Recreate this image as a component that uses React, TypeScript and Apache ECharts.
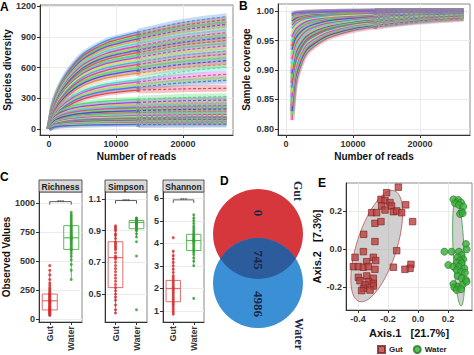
import React, { useEffect, useRef } from 'react';
import * as echarts from 'echarts';

// ---------- Panel A: rarefaction (species diversity) ----------
const READS_A = [1, 800, 2500, 5000, 8500, 13300, 20000, 26500];
const DIVERSITY_CURVES: number[][] = [
  [1, 284, 529, 728, 860, 945, 1040, 1096],
  [1, 276, 515, 708, 837, 920, 1012, 1067],
  [1, 270, 504, 693, 819, 900, 990, 1044],
  [1, 264, 493, 678, 801, 880, 968, 1021],
  [1, 258, 482, 662, 783, 860, 946, 998],
  [1, 250, 468, 643, 760, 835, 918, 969],
  [1, 243, 454, 624, 737, 810, 891, 940],
  [1, 237, 442, 608, 719, 790, 869, 916],
  [1, 231, 431, 593, 701, 770, 847, 893],
  [1, 224, 417, 574, 678, 745, 820, 864],
  [1, 216, 403, 554, 655, 720, 792, 835],
  [1, 210, 392, 539, 637, 700, 770, 812],
  [1, 204, 381, 524, 619, 680, 748, 789],
  [1, 197, 367, 504, 596, 655, 720, 760],
  [1, 189, 353, 485, 573, 630, 693, 731],
  [1, 180, 336, 462, 546, 600, 660, 696],
  [1, 173, 322, 443, 523, 575, 632, 667],
  [1, 164, 305, 420, 496, 545, 600, 632],
  [1, 144, 269, 370, 437, 480, 560, 605],
  [1, 138, 258, 354, 419, 460, 506, 534],
  [1, 129, 241, 331, 391, 430, 473, 499],
  [1, 123, 230, 316, 373, 410, 451, 476],
  [1, 114, 213, 293, 346, 380, 392, 398],
  [1, 131, 203, 247, 273, 290, 307, 316],
  [1, 117, 182, 221, 244, 260, 276, 283],
  [1, 108, 168, 204, 226, 240, 254, 262],
  [1, 101, 158, 191, 212, 225, 239, 245],
  [1, 95, 147, 179, 197, 210, 223, 229],
  [1, 88, 137, 166, 183, 195, 207, 213],
  [1, 81, 126, 153, 169, 180, 191, 196],
  [1, 72, 112, 136, 150, 160, 170, 174],
  [1, 68, 105, 128, 141, 150, 159, 164],
  [1, 59, 91, 111, 122, 130, 138, 142],
  [1, 54, 84, 102, 113, 120, 127, 131],
  [1, 50, 77, 94, 103, 110, 117, 120],
  [1, 45, 70, 85, 94, 100, 106, 109],
  [1, 41, 64, 78, 86, 92, 98, 100],
  [1, 38, 60, 72, 80, 85, 90, 93],
  [1, 35, 55, 66, 73, 78, 83, 85],
  [1, 32, 49, 60, 66, 70, 74, 76],
  [1, 28, 43, 53, 58, 62, 66, 68],
  [1, 25, 39, 47, 52, 55, 58, 60],
  [1, 20, 32, 38, 42, 45, 48, 49],
];
const A_Y_TICKS = [0, 300, 600, 900, 1200];
const READ_TICKS = [0, 10000, 20000];

// ---------- Panel B: sample coverage ----------
const READS_B = [900, 1500, 3000, 6000, 10000, 13300, 20000, 26500];
const COVERAGE_CURVES: number[][] = [
  [0.815, 0.880, 0.927, 0.953, 0.967, 0.973, 0.982, 0.987],
  [0.822, 0.885, 0.930, 0.955, 0.969, 0.975, 0.983, 0.988],
  [0.830, 0.890, 0.933, 0.957, 0.970, 0.976, 0.984, 0.989],
  [0.838, 0.895, 0.936, 0.959, 0.972, 0.977, 0.985, 0.989],
  [0.846, 0.900, 0.939, 0.961, 0.973, 0.978, 0.986, 0.990],
  [0.854, 0.905, 0.942, 0.963, 0.975, 0.980, 0.987, 0.991],
  [0.862, 0.910, 0.945, 0.965, 0.976, 0.981, 0.988, 0.991],
  [0.870, 0.915, 0.948, 0.967, 0.978, 0.982, 0.988, 0.992],
  [0.878, 0.920, 0.951, 0.969, 0.979, 0.983, 0.989, 0.992],
  [0.886, 0.925, 0.954, 0.971, 0.980, 0.984, 0.990, 0.993],
  [0.894, 0.930, 0.957, 0.973, 0.982, 0.986, 0.991, 0.993],
  [0.902, 0.935, 0.960, 0.975, 0.983, 0.987, 0.991, 0.994],
  [0.910, 0.940, 0.963, 0.977, 0.984, 0.988, 0.992, 0.994],
  [0.918, 0.945, 0.966, 0.979, 0.986, 0.989, 0.993, 0.995],
  [0.926, 0.950, 0.969, 0.981, 0.987, 0.990, 0.993, 0.995],
  [0.934, 0.955, 0.972, 0.983, 0.988, 0.991, 0.994, 0.996],
  [0.940, 0.962, 0.978, 0.986, 0.990, 0.992, 0.995, 0.996],
  [0.948, 0.965, 0.979, 0.987, 0.991, 0.993, 0.995, 0.997],
  [0.956, 0.970, 0.982, 0.989, 0.992, 0.994, 0.996, 0.997],
  [0.963, 0.975, 0.985, 0.990, 0.993, 0.995, 0.997, 0.998],
  [0.970, 0.979, 0.987, 0.992, 0.995, 0.996, 0.997, 0.998],
  [0.976, 0.983, 0.990, 0.994, 0.996, 0.997, 0.998, 0.999],
  [0.980, 0.986, 0.992, 0.995, 0.997, 0.998, 0.999, 0.999],
  [0.983, 0.988, 0.993, 0.996, 0.998, 0.998, 0.999, 0.999],
  [0.986, 0.990, 0.994, 0.997, 0.998, 0.999, 0.999, 1.000],
  [0.988, 0.992, 0.995, 0.997, 0.998, 0.999, 1.000, 1.000],
  [0.990, 0.993, 0.996, 0.998, 0.999, 0.999, 1.000, 1.000],
  [0.991, 0.994, 0.997, 0.998, 0.999, 1.000, 1.000, 1.000],
  [0.992, 0.995, 0.997, 0.998, 0.999, 1.000, 1.000, 1.000],
  [0.993, 0.996, 0.998, 0.999, 0.999, 1.000, 1.000, 1.000],
  [0.994, 0.996, 0.998, 0.999, 1.000, 1.000, 1.000, 1.000],
  [0.995, 0.997, 0.998, 0.999, 1.000, 1.000, 1.000, 1.000],
];
const B_Y_TICKS = [0.8, 0.85, 0.9, 0.95, 1.0];
const OBSERVED_INDEX = 5;

// ---------- Panel C: alpha diversity ----------
const GROUPS = ['Gut', 'Water'];
const richnessGut = [30, 38, 45, 52, 58, 64, 70, 75, 80, 86, 92, 98, 105, 112, 120, 128, 135, 142, 150, 155, 160, 165, 172, 180, 188, 195, 200, 208, 215, 222, 232, 245, 258, 272, 290, 310, 340, 380, 420, 460];
const richnessWater = [340, 420, 470, 510, 540, 565, 585, 600, 610, 620, 635, 645, 655, 665, 675, 685, 692, 700, 705, 712, 720, 730, 740, 750, 760, 770, 780, 790, 800, 810, 825, 840, 855, 870, 885, 900, 920];
const simpsonGut = [0.38, 0.40, 0.43, 0.46, 0.48, 0.50, 0.52, 0.54, 0.56, 0.58, 0.60, 0.62, 0.64, 0.66, 0.68, 0.70, 0.72, 0.73, 0.74, 0.76, 0.78, 0.79, 0.80, 0.81, 0.82, 0.83, 0.85, 0.87, 0.88, 0.90, 0.91, 0.92, 0.93];
const simpsonWater = [0.40, 0.74, 0.83, 0.86, 0.88, 0.90, 0.905, 0.91, 0.915, 0.92, 0.925, 0.93, 0.935, 0.94, 0.943, 0.946, 0.95, 0.952, 0.955, 0.958, 0.96, 0.962, 0.965, 0.967, 0.97, 0.972, 0.975, 0.978, 0.98];
const shannonGut = [0.85, 0.95, 1.05, 1.15, 1.25, 1.32, 1.40, 1.48, 1.55, 1.62, 1.70, 1.78, 1.85, 1.92, 1.99, 2.05, 2.12, 2.20, 2.28, 2.35, 2.45, 2.55, 2.70, 2.85, 3.00, 3.15, 3.30, 3.45, 3.65, 4.25];
const shannonWater = [1.55, 3.00, 3.20, 3.35, 3.50, 3.60, 3.68, 3.75, 3.82, 3.90, 3.97, 4.03, 4.08, 4.12, 4.16, 4.20, 4.25, 4.30, 4.35, 4.40, 4.48, 4.56, 4.65, 4.75, 4.88, 5.00, 5.12, 5.27];
// [min, Q1, median, Q3, max] per group
const richnessBox = [[30, 78, 157, 215, 420], [340, 600, 700, 805, 920]];
const simpsonBox = [[0.38, 0.54, 0.73, 0.83, 0.93], [0.86, 0.912, 0.952, 0.964, 0.98]];
const shannonBox = [[0.85, 1.40, 1.99, 2.35, 3.65], [3.0, 3.68, 4.12, 4.40, 5.27]];
const richnessTicks = [0, 250, 500, 750, 1000];
const simpsonTicks = [0.5, 0.7, 0.9, 1.1];
const shannonTicks = [1, 2, 3, 4, 5, 6];
const FACET_NAMES = ['Richness', 'Simpson', 'Shannon'];
const SIGNIF_LEVEL = [1012, 1.09, 5.93];

// ---------- Panel D: Venn ----------
const vennSets = ['Gut', 'Water'];
const vennCounts = [0, 745, 4986]; // Gut only, shared, Water only

// ---------- Panel E: PCoA ----------
const pcoaGut: number[][] = [
  [-0.131, 0.325], [-0.209, 0.296], [-0.247, 0.261], [-0.22, 0.254], [-0.187, 0.244], [-0.176, 0.226],
  [-0.242, 0.226], [-0.082, 0.232], [-0.309, 0.191], [-0.276, 0.191], [-0.22, 0.205], [-0.164, 0.196],
  [-0.142, 0.2], [-0.109, 0.191], [-0.287, 0.135], [-0.247, 0.144], [-0.036, 0.144], [-0.362, 0.077],
  [-0.287, 0.039], [-0.142, -0.009], [-0.364, -0.014], [-0.42, -0.044], [-0.298, -0.044], [-0.342, -0.067],
  [-0.282, -0.061], [-0.431, -0.093], [-0.398, -0.093], [-0.364, -0.096], [-0.331, -0.093], [-0.287, -0.107],
  [-0.164, -0.096], [-0.047, -0.081], [-0.053, -0.102], [-0.087, -0.107], [-0.398, -0.149], [-0.342, -0.142],
  [-0.298, -0.154], [-0.387, -0.167], [-0.331, -0.172], [-0.298, -0.181], [-0.353, -0.189], [-0.364, -0.207],
  [-0.298, -0.195], [-0.376, -0.219], [-0.32, -0.216],
];
const pcoaWater: number[][] = [
  [0.236, 0.261], [0.269, 0.258], [0.287, 0.244], [0.247, 0.24], [0.273, 0.232], [0.302, 0.223],
  [0.291, 0.196], [0.28, 0.184], [0.298, 0.188], [0.32, 0.026], [0.324, -0.002], [0.176, -0.014],
  [0.224, -0.014], [0.273, -0.014], [0.291, -0.032], [0.264, -0.044], [0.302, -0.054], [0.28, -0.061],
  [0.258, -0.072], [0.291, -0.075], [0.202, -0.084], [0.236, -0.093], [0.273, -0.093], [0.309, -0.102],
  [0.258, -0.111], [0.287, -0.119], [0.313, -0.125], [0.264, -0.142], [0.291, -0.154], [0.32, -0.163],
  [0.236, -0.184], [0.242, -0.202], [0.269, -0.198], [0.296, -0.189], [0.324, -0.172], [0.258, -0.216],
  [0.287, -0.212],
];
// [cx, cy, major-x, major-y, minor-x, minor-y]
const ellipseGut = [-0.275, 0.015, 0.117, 0.291, 0.127, -0.032];
const ellipseWater = [0.271, -0.014, -0.0167, 0.286, 0.0367, 0.0013];
const pcoaXTicks = [-0.4, -0.2, 0, 0.2];
const pcoaYTicks = [-0.2, 0, 0.2];

const FONT = '"Liberation Sans", Arial, sans-serif';
const SERIF = '"Liberation Serif", "Times New Roman", serif';
const RED = '#d42a2a';
const GREEN = '#2f9e2f';

function curveColor(i: number, offset: number) {
  const h = (i * 137.508 + offset) % 360;
  return `hsl(${h.toFixed(0)}, 72%, 58%)`;
}

const labelStyle = { color: '#333', fontSize: 9, fontWeight: 'bold' as const, fontFamily: FONT };
const nameStyle = { color: '#111', fontSize: 10, fontWeight: 'bold' as const, fontFamily: FONT };
const nameStyleE = { color: '#111', fontSize: 11, fontWeight: 'bold' as const, fontFamily: FONT };

function valueAxis(gridIndex: number, min: number, max: number, ticks: number[], fmt: (v: number) => string, extra: any = {}) {
  return {
    type: 'value', gridIndex, min, max,
    axisLine: { show: true, onZero: false, lineStyle: { color: '#333', width: 1 } },
    axisTick: { show: true, length: 3, lineStyle: { color: '#333' }, customValues: ticks },
    axisLabel: { ...labelStyle, margin: 4, customValues: ticks, formatter: fmt },
    splitLine: { show: true, lineStyle: { color: '#ebebeb', width: 1 } },
    ...extra,
  };
}

function gridBox(left: number, top: number, width: number, height: number) {
  return { left, top, width, height, show: true, borderColor: '#8a8a8a', borderWidth: 1, backgroundColor: '#fff', containLabel: false };
}

export default function App() {
  const ref = useRef<HTMLDivElement>(null);
  useEffect(() => {
    if (!ref.current) return;
    const lens = 'M 220.25 258.5 A 45 45 0 0 1 295.75 258.5 A 45 45 0 0 1 220.25 258.5 Z';
    echarts.graphic.registerShape('vennLens', echarts.graphic.extendPath(lens, {}));
    const chart = echarts.init(ref.current, undefined, { renderer: 'svg' });

    const series: any[] = [];
    const addCurves = (xs: number[], curves: number[][], gi: number, w1: number, w2: number, offset: number) => {
      const markers: any[] = [];
      curves.forEach((ys, i) => {
        const color = curveColor(i, offset);
        const pts = xs.map((x, j) => [x, ys[j]]);
        const solid = pts.slice(0, OBSERVED_INDEX + 1);
        const extra = pts.slice(OBSERVED_INDEX);
        const common = { type: 'line', xAxisIndex: gi, yAxisIndex: gi, symbol: 'none', smooth: 0.25, silent: true };
        series.push({ ...common, data: solid, z: 1, lineStyle: { color, width: w1, opacity: 0.32 } });
        series.push({ ...common, data: extra, z: 1, lineStyle: { color, width: w2, opacity: 0.32 } });
        series.push({ ...common, data: solid, z: 3, lineStyle: { color, width: 1.3 } });
        series.push({ ...common, data: extra, z: 3, lineStyle: { color, width: 1.2, type: [3, 2] } });
        markers.push({ value: pts[OBSERVED_INDEX], itemStyle: { color } });
      });
      series.push({ type: 'scatter', xAxisIndex: gi, yAxisIndex: gi, symbol: 'triangle', symbolSize: 4, z: 4, silent: true, data: markers });
    };
    addCurves(READS_A, DIVERSITY_CURVES, 0, 5, 7, 210);
    addCurves(READS_B, COVERAGE_CURVES, 1, 5, 6, 330);

    const boxColors = ['#e36b6b', '#5cb85c'];
    const boxRender = (params: any, api: any) => {
      const idx = api.value(0);
      const vals = [1, 2, 3, 4, 5].map((k) => api.value(k));
      const x = api.coord([idx, vals[2]])[0];
      const half = api.size([1, 0])[0] * 0.35;
      const y = (v: number) => api.coord([idx, v])[1];
      const stroke = boxColors[idx];
      return {
        type: 'group',
        children: [
          { type: 'line', shape: { x1: x, y1: y(vals[0]), x2: x, y2: y(vals[1]) }, style: { stroke, lineWidth: 1 } },
          { type: 'line', shape: { x1: x, y1: y(vals[3]), x2: x, y2: y(vals[4]) }, style: { stroke, lineWidth: 1 } },
          { type: 'rect', shape: { x: x - half, y: y(vals[3]), width: 2 * half, height: y(vals[1]) - y(vals[3]) }, style: { fill: 'rgba(255,255,255,0)', stroke, lineWidth: 1 } },
          { type: 'line', shape: { x1: x - half, y1: y(vals[2]), x2: x + half, y2: y(vals[2]) }, style: { stroke, lineWidth: 1.2 } },
        ],
      };
    };
    const bracketRender = (params: any, api: any) => {
      const v = api.value(0);
      const p0 = api.coord([0, v]);
      const p1 = api.coord([1, v]);
      const s = { stroke: '#333', lineWidth: 0.8 };
      return {
        type: 'group',
        children: [
          { type: 'line', shape: { x1: p0[0], y1: p0[1], x2: p1[0], y2: p1[1] }, style: s },
          { type: 'line', shape: { x1: p0[0], y1: p0[1], x2: p0[0], y2: p0[1] + 3 }, style: s },
          { type: 'line', shape: { x1: p1[0], y1: p1[1], x2: p1[0], y2: p1[1] + 3 }, style: s },
          { type: 'text', x: (p0[0] + p1[0]) / 2, y: p0[1] + 0.5, style: { text: '***', fontSize: 6, fontFamily: FONT, fill: '#333', align: 'center', verticalAlign: 'middle', textAlign: 'center', textVerticalAlign: 'middle' } },
        ],
      };
    };
    const facets = [
      { box: richnessBox, gut: richnessGut, water: richnessWater },
      { box: simpsonBox, gut: simpsonGut, water: simpsonWater },
      { box: shannonBox, gut: shannonGut, water: shannonWater },
    ];
    facets.forEach((f, k) => {
      const gi = 2 + k;
      series.push({
        type: 'custom', name: 'box-' + FACET_NAMES[k], xAxisIndex: gi, yAxisIndex: gi, renderItem: boxRender, z: 2, silent: true,
        encode: { x: 0, y: [1, 2, 3, 4, 5] },
        data: f.box.map((b, i) => [i, ...b]),
      });
      series.push({ type: 'scatter', name: 'pts-gut-' + k, xAxisIndex: gi, yAxisIndex: gi, symbolSize: 3, z: 3, silent: true, itemStyle: { color: RED }, data: f.gut.map((v) => [0, v]) });
      series.push({ type: 'scatter', name: 'pts-water-' + k, xAxisIndex: gi, yAxisIndex: gi, symbolSize: 3, z: 3, silent: true, itemStyle: { color: GREEN }, data: f.water.map((v) => [1, v]) });
      series.push({ type: 'custom', name: 'sig-' + k, xAxisIndex: gi, yAxisIndex: gi, renderItem: bracketRender, z: 4, silent: true, clip: false, encode: { y: 0 }, data: [[SIGNIF_LEVEL[k]]] });
    });

    const ellipseRender = (stroke: string) => (params: any, api: any) => {
      const e = [0, 1, 2, 3, 4, 5].map((k) => api.value(k));
      const points: number[][] = [];
      for (let j = 0; j < 72; j++) {
        const t = (j / 72) * Math.PI * 2;
        const px = e[0] + Math.cos(t) * e[2] + Math.sin(t) * e[4];
        const py = e[1] + Math.cos(t) * e[3] + Math.sin(t) * e[5];
        points.push(api.coord([px, py]));
      }
      return { type: 'polygon', shape: { points }, style: { fill: 'rgba(150,150,150,0.45)', stroke, lineWidth: 0.8 } };
    };
    series.push({ type: 'custom', name: 'ell-gut', xAxisIndex: 5, yAxisIndex: 5, renderItem: ellipseRender('#c0504d'), z: 1, silent: true, encode: { x: 0, y: 1 }, data: [ellipseGut] });
    series.push({ type: 'custom', name: 'ell-water', xAxisIndex: 5, yAxisIndex: 5, renderItem: ellipseRender('#3a9a3a'), z: 1, silent: true, encode: { x: 0, y: 1 }, data: [ellipseWater] });
    series.push({ type: 'scatter', name: 'Gut', xAxisIndex: 5, yAxisIndex: 5, symbol: 'rect', symbolSize: 6.5, z: 3, itemStyle: { color: '#b9403f', borderColor: '#7d1f1f', borderWidth: 0.8 }, data: pcoaGut });
    series.push({ type: 'scatter', name: 'Water', xAxisIndex: 5, yAxisIndex: 5, symbol: 'circle', symbolSize: 7, z: 3, itemStyle: { color: '#3aab3a', borderColor: '#217a21', borderWidth: 0.8 }, data: pcoaWater });

    const catAxis = (gi: number) => ({
      type: 'category', gridIndex: gi, data: GROUPS, boundaryGap: true,
      axisLine: { show: true, onZero: false, lineStyle: { color: '#333' } },
      axisTick: { show: true, length: 3, alignWithLabel: true, lineStyle: { color: '#333' } },
      axisLabel: { ...labelStyle, rotate: 90, interval: 0, margin: 4 },
      splitLine: { show: false },
    });

    const strip = (x: number, w: number, label: string) => [
      { type: 'rect', shape: { x, y: 180, width: w, height: 12 }, style: { fill: '#d9d9d9', stroke: '#333', lineWidth: 0.8 } },
      { type: 'text', x: x + w / 2, y: 186.5, style: { text: label, fontSize: 8.5, fontWeight: 'bold', fontFamily: FONT, fill: '#1a1a1a', align: 'center', verticalAlign: 'middle', textAlign: 'center', textVerticalAlign: 'middle' } },
    ];
    const letter = (t: string, x: number, y: number) => ({ type: 'text', x, y, style: { text: t, fontSize: 12, fontWeight: 'bold', fontFamily: FONT, fill: '#000' } });
    const vennText = (t: string, x: number, y: number, size: number) => ({
      type: 'text', x, y, rotation: -Math.PI / 2,
      style: { text: t, fontSize: size, fontWeight: 'bold', fontFamily: SERIF, fill: '#1b2747', align: 'center', verticalAlign: 'middle', textAlign: 'center', textVerticalAlign: 'middle' },
    });

    chart.setOption({
      animation: false,
      textStyle: { fontFamily: FONT },
      grid: [
        gridBox(40, 5, 193, 130),
        gridBox(278, 4, 192, 131),
        gridBox(39, 192, 43, 130),
        gridBox(105, 192, 42, 130),
        gridBox(163, 192, 41, 130),
        gridBox(346, 183, 126, 127),
      ],
      xAxis: [
        valueAxis(0, -1343, 27463, READ_TICKS, (v) => String(v), { name: 'Number of reads', nameLocation: 'middle', nameGap: 16, nameTextStyle: nameStyle }),
        valueAxis(1, -1194, 27463, READ_TICKS, (v) => String(v), { name: 'Number of reads', nameLocation: 'middle', nameGap: 16, nameTextStyle: nameStyle }),
        catAxis(2),
        catAxis(3),
        catAxis(4),
        valueAxis(5, -0.48, 0.36, pcoaXTicks, (v) => v.toFixed(1), { name: 'Axis.1   [21.7%]', nameLocation: 'middle', nameGap: 17, nameTextStyle: nameStyleE }),
      ],
      yAxis: [
        valueAxis(0, -58, 1210, A_Y_TICKS, (v) => String(v), { name: 'Species diversity', nameLocation: 'middle', nameGap: 26, nameTextStyle: nameStyle }),
        valueAxis(1, 0.7898, 1.0119, B_Y_TICKS, (v) => v.toFixed(2), { name: 'Sample coverage', nameLocation: 'middle', nameGap: 27, nameTextStyle: nameStyle }),
        valueAxis(2, -26, 1095, richnessTicks, (v) => String(v), { name: 'Observed Values', nameLocation: 'middle', nameGap: 26, nameTextStyle: nameStyle }),
        valueAxis(3, 0.323, 1.144, simpsonTicks, (v) => v.toFixed(1)),
        valueAxis(4, 0.5, 6.28, shannonTicks, (v) => String(v)),
        valueAxis(5, -0.321, 0.347, pcoaYTicks, (v) => v.toFixed(1), { name: 'Axis.2   [7.3%]', nameLocation: 'middle', nameGap: 18, nameTextStyle: nameStyleE }),
      ],
      legend: {
        data: [{ name: 'Gut', icon: 'rect' }, { name: 'Water', icon: 'circle' }],
        left: 372, top: 340, itemWidth: 7, itemHeight: 7, itemGap: 10, selectedMode: false,
        textStyle: { fontSize: 8, fontWeight: 'bold', fontFamily: FONT, color: '#222', padding: [0, 0, 0, -1] },
      },
      graphic: [
        letter('A', 0, 1),
        letter('B', 239, 0),
        letter('C', 0, 171),
        letter('D', 220, 175),
        letter('E', 318, 177),
        ...strip(39, 43, FACET_NAMES[0]),
        ...strip(105, 42, FACET_NAMES[1]),
        ...strip(163, 41, FACET_NAMES[2]),
        { type: 'circle', shape: { cx: 258, cy: 234, r: 45 }, style: { fill: '#d5373c' } },
        { type: 'circle', shape: { cx: 258, cy: 283, r: 45 }, style: { fill: '#3a8fd5' } },
        { type: 'vennLens', x: 0, y: 0, scaleX: 1, scaleY: 1, style: { fill: '#2d5c9c' } },
        vennText(String(vennCounts[0]), 258, 213, 13),
        vennText(String(vennCounts[1]), 258, 260, 13),
        vennText(String(vennCounts[2]), 258, 304, 13),
        vennText(vennSets[0], 298, 191, 12),
        vennText(vennSets[1], 299, 334, 12),
      ],
      series,
    });
    return () => chart.dispose();
  }, []);
  return <div ref={ref} style={{ position: 'absolute', left: 0, top: 0, width: 474, height: 355 }} />;
}
